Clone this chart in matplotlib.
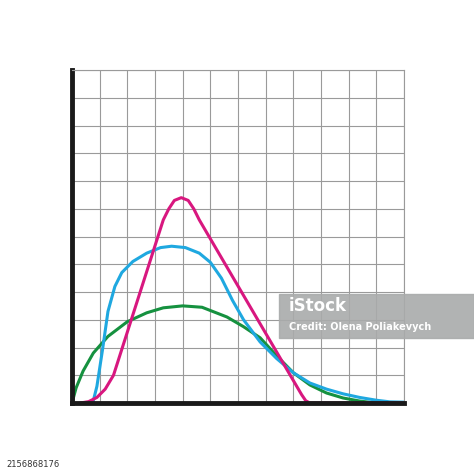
import matplotlib
matplotlib.use("Agg")
import matplotlib.pyplot as plt

# curve points (grid units, 12x12 cells)
pink_x = [0.3, 0.6, 0.9, 1.2, 1.5, 3.3, 3.5, 3.7, 3.95, 4.2, 4.4, 4.6, 8.3, 8.45, 8.6, 12.0]
pink_y = [0.0, 0.05, 0.2, 0.5, 1.0, 6.6, 7.0, 7.3, 7.4, 7.3, 7.0, 6.6, 0.3, 0.08, 0.0, 0.0]
blue_x = [0.75, 0.9, 1.1, 1.3, 1.55, 1.8, 2.2, 2.7, 3.2, 3.6, 4.1, 4.6, 5.0, 5.4, 5.8, 6.2, 6.8, 7.4, 8.0, 8.6, 9.2, 9.8, 10.4, 11.0, 11.5, 12.0]
blue_y = [0.0, 0.6, 1.9, 3.3, 4.2, 4.7, 5.1, 5.4, 5.6, 5.65, 5.6, 5.4, 5.07, 4.5, 3.7, 3.0, 2.2, 1.6, 1.09, 0.72, 0.5, 0.33, 0.2, 0.1, 0.04, 0.03]
green_x = [0.0, 0.15, 0.4, 0.77, 1.3, 2.0, 2.7, 3.3, 4.0, 4.7, 5.6, 6.2, 6.8, 7.4, 8.0, 8.6, 9.2, 9.8, 10.4, 11.0]
green_y = [0.0, 0.55, 1.15, 1.8, 2.4, 2.93, 3.25, 3.43, 3.5, 3.45, 3.1, 2.75, 2.35, 1.7, 1.09, 0.65, 0.36, 0.18, 0.07, 0.0]

fig = plt.figure(figsize=(4.74, 4.74), dpi=100)
ax = fig.add_axes([72 / 474, 1 - 403 / 474, 332 / 474, 333 / 474])
ax.set_xlim(0, 12)
ax.set_ylim(0, 12)
ax.set_xticks(range(13))
ax.set_yticks(range(13))
ax.grid(True, color="#9a9a9a", linewidth=0.8)
ax.tick_params(length=0, labelbottom=False, labelleft=False)
for s in ["top", "right"]:
    ax.spines[s].set_color("#9a9a9a")
    ax.spines[s].set_linewidth(0.8)
for s in ["left", "bottom"]:
    ax.spines[s].set_color("#1a1a1a")
    ax.spines[s].set_linewidth(3.5)

ax.plot(green_x, green_y, color="#15913f", linewidth=2.2, solid_capstyle="round", clip_on=False)
ax.plot(blue_x, blue_y, color="#1fa8e0", linewidth=2.2, solid_capstyle="round", clip_on=False)
ax.plot(pink_x, pink_y, color="#d8177f", linewidth=2.2, solid_capstyle="round", clip_on=False)

# watermark
fig.patches.append(plt.Rectangle((279 / 474, 1 - 338 / 474), 195 / 474, 44 / 474,
                                 transform=fig.transFigure, color="#a9abab", alpha=0.9, zorder=5))
fig.text(289 / 474, 1 - 311 / 474, "iStock", color="white", fontsize=12, fontweight="bold", zorder=6)
fig.text(289 / 474, 1 - 330 / 474, "Credit: Olena Poliakevych", color="white", fontsize=7, fontweight="bold", zorder=6)
fig.text(6 / 474, 1 - 467 / 474, "2156868176", color="#333333", fontsize=6)

fig.savefig("out.png", dpi=100)
